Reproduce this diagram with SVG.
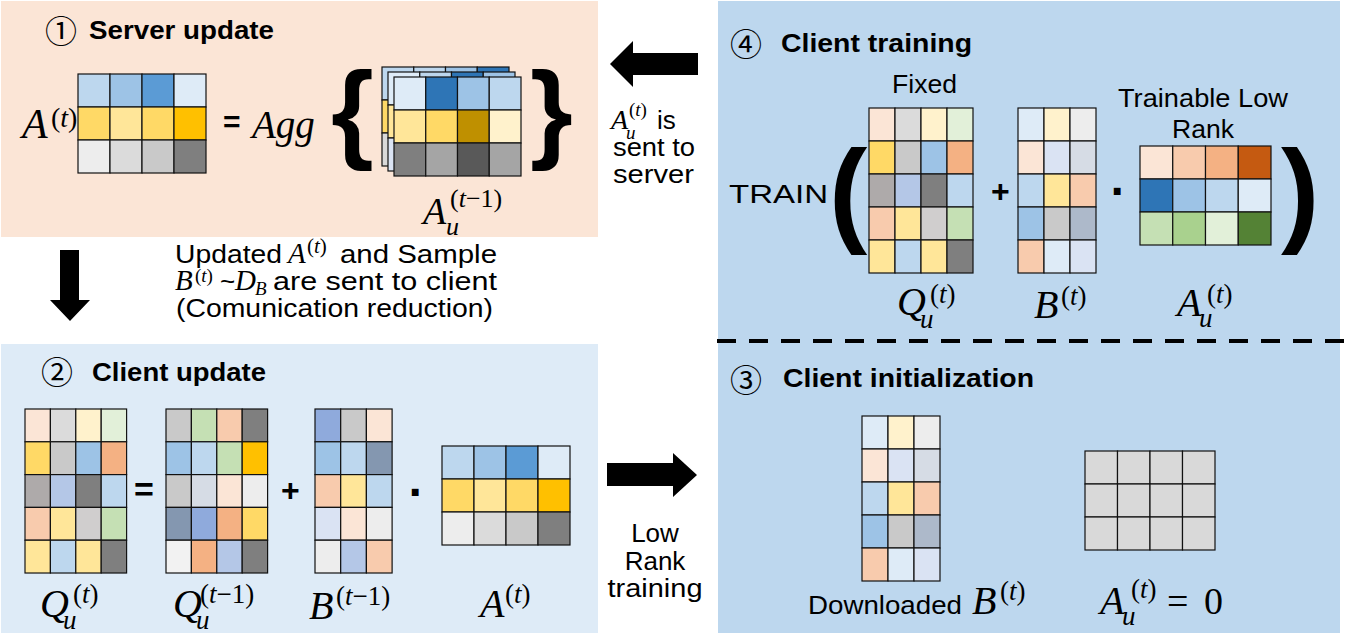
<svg xmlns="http://www.w3.org/2000/svg" width="1346" height="638" viewBox="0 0 1346 638">
<style>
.cell{stroke:#111;stroke-width:1.2}
.ttl{font-family:"Liberation Sans",Arial,sans-serif;font-weight:bold;font-size:25px;fill:#000}
.txt{font-family:"Liberation Sans",Arial,sans-serif;font-size:26px;fill:#000}
.num{font-family:"Noto Sans CJK JP","DejaVu Sans",sans-serif;font-size:32px;fill:#000}
.mi{font-family:"Liberation Serif","Times New Roman",serif;font-style:italic;fill:#000}
.mu{font-family:"Liberation Serif","Times New Roman",serif;font-style:normal;fill:#000}
.op{font-family:"Liberation Sans",Arial,sans-serif;font-weight:bold;fill:#000}
.arrow{fill:#000}
.dash{stroke:#000;stroke-width:4;stroke-dasharray:19 13}
</style>
<defs>
<g id="mA">
<rect class="cell" x="0" y="0" width="32" height="33" fill="#BDD7EE"/><rect class="cell" x="32" y="0" width="32" height="33" fill="#9DC3E6"/><rect class="cell" x="64" y="0" width="32" height="33" fill="#5B9BD5"/><rect class="cell" x="96" y="0" width="32" height="33" fill="#DEEBF7"/>
<rect class="cell" x="0" y="33" width="32" height="33" fill="#FFD966"/><rect class="cell" x="32" y="33" width="32" height="33" fill="#FFE699"/><rect class="cell" x="64" y="33" width="32" height="33" fill="#FFD966"/><rect class="cell" x="96" y="33" width="32" height="33" fill="#FFC000"/>
<rect class="cell" x="0" y="66" width="32" height="33" fill="#EDEDED"/><rect class="cell" x="32" y="66" width="32" height="33" fill="#DBDBDB"/><rect class="cell" x="64" y="66" width="32" height="33" fill="#C9C9C9"/><rect class="cell" x="96" y="66" width="32" height="33" fill="#7F7F7F"/>
</g>
<g id="mQ">
<rect class="cell" x="0" y="0" width="26" height="33" fill="#FBE5D6"/><rect class="cell" x="26" y="0" width="26" height="33" fill="#DBDBDB"/><rect class="cell" x="52" y="0" width="26" height="33" fill="#FFF2CC"/><rect class="cell" x="78" y="0" width="26" height="33" fill="#E2F0D9"/>
<rect class="cell" x="0" y="33" width="26" height="33" fill="#FFD966"/><rect class="cell" x="26" y="33" width="26" height="33" fill="#C9C9C9"/><rect class="cell" x="52" y="33" width="26" height="33" fill="#9DC3E6"/><rect class="cell" x="78" y="33" width="26" height="33" fill="#F4B183"/>
<rect class="cell" x="0" y="66" width="26" height="33" fill="#AEAAAA"/><rect class="cell" x="26" y="66" width="26" height="33" fill="#B4C7E7"/><rect class="cell" x="52" y="66" width="26" height="33" fill="#7F7F7F"/><rect class="cell" x="78" y="66" width="26" height="33" fill="#BDD7EE"/>
<rect class="cell" x="0" y="99" width="26" height="33" fill="#F8CBAD"/><rect class="cell" x="26" y="99" width="26" height="33" fill="#FFE699"/><rect class="cell" x="52" y="99" width="26" height="33" fill="#D0CECE"/><rect class="cell" x="78" y="99" width="26" height="33" fill="#C5E0B4"/>
<rect class="cell" x="0" y="132" width="26" height="33" fill="#FFE699"/><rect class="cell" x="26" y="132" width="26" height="33" fill="#BDD7EE"/><rect class="cell" x="52" y="132" width="26" height="33" fill="#FFE699"/><rect class="cell" x="78" y="132" width="26" height="33" fill="#7F7F7F"/>
</g>
<g id="mB">
<rect class="cell" x="0" y="0" width="26" height="33" fill="#DEEBF7"/><rect class="cell" x="26" y="0" width="26" height="33" fill="#FFF2CC"/><rect class="cell" x="52" y="0" width="26" height="33" fill="#EDEDED"/>
<rect class="cell" x="0" y="33" width="26" height="33" fill="#FBE5D6"/><rect class="cell" x="26" y="33" width="26" height="33" fill="#DAE3F3"/><rect class="cell" x="52" y="33" width="26" height="33" fill="#D6DCE5"/>
<rect class="cell" x="0" y="66" width="26" height="33" fill="#BDD7EE"/><rect class="cell" x="26" y="66" width="26" height="33" fill="#FFE699"/><rect class="cell" x="52" y="66" width="26" height="33" fill="#F8CBAD"/>
<rect class="cell" x="0" y="99" width="26" height="33" fill="#9DC3E6"/><rect class="cell" x="26" y="99" width="26" height="33" fill="#C9C9C9"/><rect class="cell" x="52" y="99" width="26" height="33" fill="#ADB9CA"/>
<rect class="cell" x="0" y="132" width="26" height="33" fill="#F8CBAD"/><rect class="cell" x="26" y="132" width="26" height="33" fill="#DEEBF7"/><rect class="cell" x="52" y="132" width="26" height="33" fill="#DAE3F3"/>
</g>
</defs>

<g id="server-update">
<rect x="1" y="1" width="597" height="236" fill="#FBE5D6"/>
<text class="num" x="61" y="43" text-anchor="middle">①</text>
<text class="ttl" x="89" y="39" textLength="185" lengthAdjust="spacingAndGlyphs">Server update</text>
<text class="mi" font-size="42"><tspan x="22" y="138">A</tspan><tspan x="51" y="127" font-size="28" font-style="normal">(</tspan><tspan font-size="28">t</tspan><tspan font-size="28" font-style="normal">)</tspan></text>
<use href="#mA" transform="translate(78,74)"/>
<text class="op" x="223" y="132" font-size="30">=</text>
<text class="mi" x="252" y="138" font-size="39">Agg</text>
<text class="op" x="331" y="148" font-size="110">{</text>
<g id="stack-back">
<rect class="cell" x="382" y="67" width="31.75" height="33" fill="#BDD7EE"/><rect class="cell" x="413.75" y="67" width="31.75" height="33" fill="#BDD7EE"/><rect class="cell" x="445.5" y="67" width="31.75" height="33" fill="#9DC3E6"/><rect class="cell" x="477.25" y="67" width="31.75" height="33" fill="#2E75B6"/>
<rect class="cell" x="382" y="100" width="31.75" height="33" fill="#FFD966"/><rect class="cell" x="413.75" y="100" width="31.75" height="33" fill="#FFE699"/><rect class="cell" x="445.5" y="100" width="31.75" height="33" fill="#FFD966"/><rect class="cell" x="477.25" y="100" width="31.75" height="33" fill="#FFC000"/>
<rect class="cell" x="382" y="133" width="31.75" height="33" fill="#D9D9D9"/><rect class="cell" x="413.75" y="133" width="31.75" height="33" fill="#C9C9C9"/><rect class="cell" x="445.5" y="133" width="31.75" height="33" fill="#A5A5A5"/><rect class="cell" x="477.25" y="133" width="31.75" height="33" fill="#7F7F7F"/>
</g>
<g id="stack-middle">
<rect class="cell" x="388" y="72" width="31.75" height="33" fill="#DEEBF7"/><rect class="cell" x="419.75" y="72" width="31.75" height="33" fill="#BDD7EE"/><rect class="cell" x="451.5" y="72" width="31.75" height="33" fill="#2E75B6"/><rect class="cell" x="483.25" y="72" width="31.75" height="33" fill="#9DC3E6"/>
<rect class="cell" x="388" y="105" width="31.75" height="33" fill="#FFE699"/><rect class="cell" x="419.75" y="105" width="31.75" height="33" fill="#FFD966"/><rect class="cell" x="451.5" y="105" width="31.75" height="33" fill="#FFC000"/><rect class="cell" x="483.25" y="105" width="31.75" height="33" fill="#FFF2CC"/>
<rect class="cell" x="388" y="138" width="31.75" height="33" fill="#DAE3F3"/><rect class="cell" x="419.75" y="138" width="31.75" height="33" fill="#C9C9C9"/><rect class="cell" x="451.5" y="138" width="31.75" height="33" fill="#7F7F7F"/><rect class="cell" x="483.25" y="138" width="31.75" height="33" fill="#A5A5A5"/>
</g>
<g id="stack-front">
<rect class="cell" x="394" y="77" width="31.75" height="33" fill="#DEEBF7"/><rect class="cell" x="425.75" y="77" width="31.75" height="33" fill="#2E75B6"/><rect class="cell" x="457.5" y="77" width="31.75" height="33" fill="#9DC3E6"/><rect class="cell" x="489.25" y="77" width="31.75" height="33" fill="#BDD7EE"/>
<rect class="cell" x="394" y="110" width="31.75" height="33" fill="#FFE699"/><rect class="cell" x="425.75" y="110" width="31.75" height="33" fill="#FFD966"/><rect class="cell" x="457.5" y="110" width="31.75" height="33" fill="#BF9000"/><rect class="cell" x="489.25" y="110" width="31.75" height="33" fill="#FFF2CC"/>
<rect class="cell" x="394" y="143" width="31.75" height="33" fill="#7F7F7F"/><rect class="cell" x="425.75" y="143" width="31.75" height="33" fill="#A5A5A5"/><rect class="cell" x="457.5" y="143" width="31.75" height="33" fill="#595959"/><rect class="cell" x="489.25" y="143" width="31.75" height="33" fill="#A5A5A5"/>
</g>
<text class="op" x="530" y="148" font-size="110">}</text>
<text class="mi" font-size="38"><tspan x="423" y="224">A</tspan><tspan x="446" y="235" font-size="26">u</tspan><tspan x="450" y="207" font-size="26" font-style="normal">(</tspan><tspan font-size="26">t</tspan><tspan font-size="26" font-style="normal">−1)</tspan></text>
</g>

<g id="connectors">
<polygon class="arrow" points="610,64 633,41 633,53 698,53 698,75 633,75 633,87"/>
<polygon class="arrow" points="60,250 79,250 79,300 90,300 70,321 50,300 60,300"/>
<polygon class="arrow" points="607,463 673,463 673,453 697,475 673,497 673,486 607,486"/>
<g id="label-sent">
<text class="mi" font-size="28"><tspan x="611" y="129">A</tspan><tspan x="626" y="139" font-size="19">u</tspan><tspan x="629" y="116" font-size="19" font-style="normal">(</tspan><tspan font-size="19">t</tspan><tspan font-size="19" font-style="normal">)</tspan></text>
<text class="txt" x="657" y="129" font-size="27">is</text>
<text class="txt" x="613" y="156" font-size="27" textLength="82" lengthAdjust="spacingAndGlyphs">sent to</text>
<text class="txt" x="613" y="183" font-size="27" textLength="81" lengthAdjust="spacingAndGlyphs">server</text>
</g>
<g id="label-updated">
<text class="txt" x="175" y="263" textLength="107" lengthAdjust="spacingAndGlyphs">Updated</text>
<text class="mi" font-size="29"><tspan x="288" y="263">A</tspan><tspan x="307" y="253" font-size="21" font-style="normal">(</tspan><tspan font-size="21">t</tspan><tspan font-size="21" font-style="normal">)</tspan></text>
<text class="txt" x="340" y="263" textLength="157" lengthAdjust="spacingAndGlyphs">and Sample</text>
<text class="mi" font-size="29"><tspan x="175" y="290">B</tspan><tspan x="195" y="282" font-size="19" font-style="normal">(</tspan><tspan font-size="19">t</tspan><tspan font-size="19" font-style="normal">)</tspan></text>
<text class="txt" x="220" y="290">~</text>
<text class="mi" font-size="29"><tspan x="235" y="290">D</tspan><tspan x="255" y="295" font-size="19">B</tspan></text>
<text class="txt" x="273" y="290" textLength="224" lengthAdjust="spacingAndGlyphs">are sent to client</text>
<text class="txt" x="176" y="317" textLength="317" lengthAdjust="spacingAndGlyphs">(Comunication reduction)</text>
</g>
<g id="label-lowrank">
<text class="txt" x="655" y="542" font-size="27" text-anchor="middle">Low</text>
<text class="txt" x="655" y="570" font-size="27" text-anchor="middle">Rank</text>
<text class="txt" x="655" y="597" font-size="27" text-anchor="middle" textLength="95" lengthAdjust="spacingAndGlyphs">training</text>
</g>
</g>

<g id="client-update">
<rect x="1" y="344" width="597" height="289" fill="#DEEBF7"/>
<text class="num" x="57" y="384" text-anchor="middle">②</text>
<text class="ttl" x="92" y="381" textLength="174" lengthAdjust="spacingAndGlyphs">Client update</text>
<use href="#mQ" transform="translate(25,409) scale(0.977,0.994)"/>
<text class="op" x="134" y="501" font-size="34">=</text>
<g id="Q-prev">
<rect class="cell" x="166" y="409" width="25.4" height="32.8" fill="#C9C9C9"/><rect class="cell" x="191.4" y="409" width="25.4" height="32.8" fill="#C5E0B4"/><rect class="cell" x="216.8" y="409" width="25.4" height="32.8" fill="#F8CBAD"/><rect class="cell" x="242.2" y="409" width="25.4" height="32.8" fill="#7F7F7F"/>
<rect class="cell" x="166" y="441.8" width="25.4" height="32.8" fill="#9DC3E6"/><rect class="cell" x="191.4" y="441.8" width="25.4" height="32.8" fill="#BDD7EE"/><rect class="cell" x="216.8" y="441.8" width="25.4" height="32.8" fill="#C5E0B4"/><rect class="cell" x="242.2" y="441.8" width="25.4" height="32.8" fill="#FFC000"/>
<rect class="cell" x="166" y="474.6" width="25.4" height="32.8" fill="#C9C9C9"/><rect class="cell" x="191.4" y="474.6" width="25.4" height="32.8" fill="#D6DCE5"/><rect class="cell" x="216.8" y="474.6" width="25.4" height="32.8" fill="#FBE5D6"/><rect class="cell" x="242.2" y="474.6" width="25.4" height="32.8" fill="#EDEDED"/>
<rect class="cell" x="166" y="507.4" width="25.4" height="32.8" fill="#8497B0"/><rect class="cell" x="191.4" y="507.4" width="25.4" height="32.8" fill="#8FAADC"/><rect class="cell" x="216.8" y="507.4" width="25.4" height="32.8" fill="#F4B183"/><rect class="cell" x="242.2" y="507.4" width="25.4" height="32.8" fill="#FFD966"/>
<rect class="cell" x="166" y="540.2" width="25.4" height="32.8" fill="#F2F2F2"/><rect class="cell" x="191.4" y="540.2" width="25.4" height="32.8" fill="#F4B183"/><rect class="cell" x="216.8" y="540.2" width="25.4" height="32.8" fill="#B4C7E7"/><rect class="cell" x="242.2" y="540.2" width="25.4" height="32.8" fill="#7F7F7F"/>
</g>
<text class="op" x="281" y="501" font-size="32">+</text>
<g id="B-prev">
<rect class="cell" x="315" y="409" width="25.7" height="32.8" fill="#8FAADC"/><rect class="cell" x="340.7" y="409" width="25.7" height="32.8" fill="#C9C9C9"/><rect class="cell" x="366.4" y="409" width="25.7" height="32.8" fill="#FBE5D6"/>
<rect class="cell" x="315" y="441.8" width="25.7" height="32.8" fill="#9DC3E6"/><rect class="cell" x="340.7" y="441.8" width="25.7" height="32.8" fill="#BDD7EE"/><rect class="cell" x="366.4" y="441.8" width="25.7" height="32.8" fill="#8497B0"/>
<rect class="cell" x="315" y="474.6" width="25.7" height="32.8" fill="#F8CBAD"/><rect class="cell" x="340.7" y="474.6" width="25.7" height="32.8" fill="#FFE699"/><rect class="cell" x="366.4" y="474.6" width="25.7" height="32.8" fill="#BDD7EE"/>
<rect class="cell" x="315" y="507.4" width="25.7" height="32.8" fill="#DAE3F3"/><rect class="cell" x="340.7" y="507.4" width="25.7" height="32.8" fill="#FBE5D6"/><rect class="cell" x="366.4" y="507.4" width="25.7" height="32.8" fill="#EDEDED"/>
<rect class="cell" x="315" y="540.2" width="25.7" height="32.8" fill="#EDEDED"/><rect class="cell" x="340.7" y="540.2" width="25.7" height="32.8" fill="#B4C7E7"/><rect class="cell" x="366.4" y="540.2" width="25.7" height="32.8" fill="#F8CBAD"/>
</g>
<text class="op" x="416.5" y="509" font-size="48" text-anchor="middle">·</text>
<use href="#mA" transform="translate(442,446)"/>
<text class="mi" font-size="40"><tspan x="40" y="617">Q</tspan><tspan x="63" y="629" font-size="27">u</tspan><tspan x="73" y="603" font-size="27" font-style="normal">(</tspan><tspan font-size="27">t</tspan><tspan font-size="27" font-style="normal">)</tspan></text>
<text class="mi" font-size="40"><tspan x="173" y="617">Q</tspan><tspan x="196" y="629" font-size="27">u</tspan><tspan x="200" y="603" font-size="27" font-style="normal">(</tspan><tspan font-size="27">t</tspan><tspan font-size="27" font-style="normal">−1)</tspan></text>
<text class="mi" font-size="40"><tspan x="309" y="619">B</tspan><tspan x="336" y="605" font-size="27" font-style="normal">(</tspan><tspan font-size="27">t</tspan><tspan font-size="27" font-style="normal">−1)</tspan></text>
<text class="mi" font-size="40"><tspan x="480" y="617">A</tspan><tspan x="505" y="603" font-size="27" font-style="normal">(</tspan><tspan font-size="27">t</tspan><tspan font-size="27" font-style="normal">)</tspan></text>
</g>

<g id="right-panel">
<rect x="718" y="1" width="622" height="632" fill="#BDD7EE"/>
<line class="dash" x1="717" y1="341" x2="1346" y2="341"/>
</g>

<g id="client-training">
<text class="num" x="746" y="56" text-anchor="middle">④</text>
<text class="ttl" x="781" y="52" textLength="191" lengthAdjust="spacingAndGlyphs">Client training</text>
<text class="txt" x="892" y="93" font-size="25" textLength="65" lengthAdjust="spacingAndGlyphs">Fixed</text>
<text class="txt" x="1118" y="107" font-size="25" textLength="170" lengthAdjust="spacingAndGlyphs">Trainable Low</text>
<text class="txt" x="1172" y="138" font-size="25" textLength="62" lengthAdjust="spacingAndGlyphs">Rank</text>
<text class="txt" x="729" y="203" font-size="32" textLength="99" lengthAdjust="spacingAndGlyphs">TRAIN</text>
<text class="op" x="829" y="231" font-size="115">(</text>
<use href="#mQ" transform="translate(869,108)"/>
<text class="op" x="991" y="202" font-size="32">+</text>
<use href="#mB" transform="translate(1018,108)"/>
<text class="op" x="1118.5" y="208" font-size="48" text-anchor="middle">·</text>
<g id="A-trainable">
<rect class="cell" x="1140" y="146" width="32.75" height="33" fill="#FBE5D6"/><rect class="cell" x="1172.75" y="146" width="32.75" height="33" fill="#F8CBAD"/><rect class="cell" x="1205.5" y="146" width="32.75" height="33" fill="#F4B183"/><rect class="cell" x="1238.25" y="146" width="32.75" height="33" fill="#C55A11"/>
<rect class="cell" x="1140" y="179" width="32.75" height="33" fill="#2E75B6"/><rect class="cell" x="1172.75" y="179" width="32.75" height="33" fill="#9DC3E6"/><rect class="cell" x="1205.5" y="179" width="32.75" height="33" fill="#BDD7EE"/><rect class="cell" x="1238.25" y="179" width="32.75" height="33" fill="#DEEBF7"/>
<rect class="cell" x="1140" y="212" width="32.75" height="33" fill="#C5E0B4"/><rect class="cell" x="1172.75" y="212" width="32.75" height="33" fill="#A9D18E"/><rect class="cell" x="1205.5" y="212" width="32.75" height="33" fill="#E2F0D9"/><rect class="cell" x="1238.25" y="212" width="32.75" height="33" fill="#548235"/>
</g>
<text class="op" x="1281" y="231" font-size="115">)</text>
<text class="mi" font-size="40"><tspan x="897" y="315">Q</tspan><tspan x="920" y="328" font-size="27">u</tspan><tspan x="930" y="303" font-size="27" font-style="normal">(</tspan><tspan font-size="27">t</tspan><tspan font-size="27" font-style="normal">)</tspan></text>
<text class="mi" font-size="40"><tspan x="1034" y="318">B</tspan><tspan x="1061" y="305" font-size="27" font-style="normal">(</tspan><tspan font-size="27">t</tspan><tspan font-size="27" font-style="normal">)</tspan></text>
<text class="mi" font-size="40"><tspan x="1177" y="316">A</tspan><tspan x="1199" y="327" font-size="27">u</tspan><tspan x="1207" y="303" font-size="27" font-style="normal">(</tspan><tspan font-size="27">t</tspan><tspan font-size="27" font-style="normal">)</tspan></text>
</g>

<g id="client-initialization">
<text class="num" x="746" y="392" text-anchor="middle">③</text>
<text class="ttl" x="783" y="387" textLength="251" lengthAdjust="spacingAndGlyphs">Client initialization</text>
<use href="#mB" transform="translate(862,416)"/>
<g id="A-zero">
<rect class="cell" x="1085" y="451" width="32.5" height="33" fill="#D9D9D9"/><rect class="cell" x="1117.5" y="451" width="32.5" height="33" fill="#D9D9D9"/><rect class="cell" x="1150" y="451" width="32.5" height="33" fill="#D9D9D9"/><rect class="cell" x="1182.5" y="451" width="32.5" height="33" fill="#D9D9D9"/>
<rect class="cell" x="1085" y="484" width="32.5" height="33" fill="#D9D9D9"/><rect class="cell" x="1117.5" y="484" width="32.5" height="33" fill="#D9D9D9"/><rect class="cell" x="1150" y="484" width="32.5" height="33" fill="#D9D9D9"/><rect class="cell" x="1182.5" y="484" width="32.5" height="33" fill="#D9D9D9"/>
<rect class="cell" x="1085" y="517" width="32.5" height="33" fill="#D9D9D9"/><rect class="cell" x="1117.5" y="517" width="32.5" height="33" fill="#D9D9D9"/><rect class="cell" x="1150" y="517" width="32.5" height="33" fill="#D9D9D9"/><rect class="cell" x="1182.5" y="517" width="32.5" height="33" fill="#D9D9D9"/>
</g>
<text class="txt" x="808" y="614" textLength="154" lengthAdjust="spacingAndGlyphs">Downloaded</text>
<text class="mi" font-size="40"><tspan x="972" y="614">B</tspan><tspan x="1000" y="600" font-size="27" font-style="normal">(</tspan><tspan font-size="27">t</tspan><tspan font-size="27" font-style="normal">)</tspan></text>
<text class="mi" font-size="40"><tspan x="1100" y="614">A</tspan><tspan x="1122" y="625" font-size="27">u</tspan><tspan x="1131" y="598" font-size="27" font-style="normal">(</tspan><tspan font-size="27">t</tspan><tspan font-size="27" font-style="normal">)</tspan></text>
<text class="mu" font-size="38" x="1167" y="614">=</text>
<text class="mu" font-size="38" x="1204" y="614">0</text>
</g>
</svg>
